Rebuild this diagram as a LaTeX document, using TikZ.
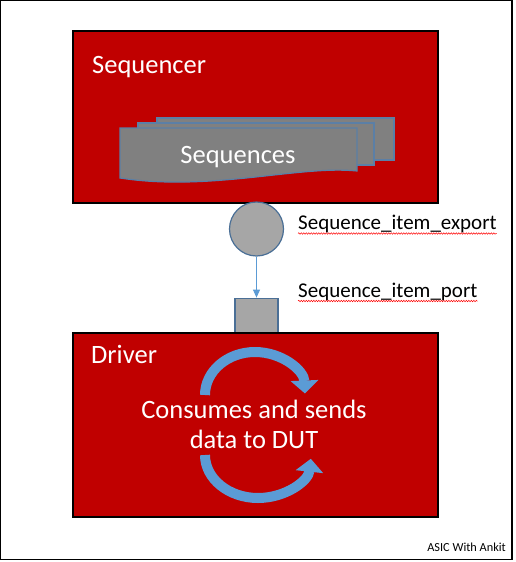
\documentclass[tikz,border=0pt]{standalone}
\usepackage{fontspec}
\setmainfont{Carlito}
\usetikzlibrary{arrows.meta,positioning,decorations.pathmorphing}
\definecolor{boxred}{HTML}{C00000}
\definecolor{docgray}{HTML}{808080}
\definecolor{docedge}{HTML}{5B7FA6}
\definecolor{portgray}{HTML}{A6A6A6}
\definecolor{portedge}{HTML}{4A6F96}
\definecolor{loopblue}{HTML}{5B9BD5}

\begin{document}
\begin{tikzpicture}[x=1pt,y=-1pt,
    block/.style={draw=black,line width=1.5pt,fill=boxred,anchor=north west,inner sep=0pt},
    title/.style={text=white,font=\fontsize{26.5}{30}\selectfont,anchor=base west,inner sep=0pt},
    sheet/.style={fill=docgray,draw=docedge,line width=1.2pt},
    tlmport/.style={fill=portgray,draw=portedge,line width=1.2pt,inner sep=0pt},
    portlabel/.style={font=\fontsize{21}{25}\selectfont,anchor=base west,inner sep=0pt},
    squiggle/.style={draw=red,line width=0.5pt,decorate,decoration={snake,amplitude=0.7pt,segment length=2.5pt}},
    link/.style={draw=loopblue,line width=0.8pt,-{Triangle[width=7pt,length=8pt]}},
    swirl/.style={draw=loopblue,line width=10pt,-{Triangle[width=27pt,length=13pt]}}]
  \useasboundingbox (0,0) rectangle (515,562);
  \draw[line width=1.2pt] (0.8,0.8) rectangle (512,559.5);

  % sequencer
  \node[block,minimum width=365pt,minimum height=172pt] (sequencer) at (72,30) {};
  \node[title] (seqname) at (92,73) {Sequencer};
  \draw[sheet] (157,118) rectangle (394,160);
  \draw[sheet] (138,123) rectangle (374,165);
  \draw[sheet] (120,128) -- (357,128) -- (357,171)
    .. controls (300,165) and (210,192) .. (120,178) -- cycle;
  \node[title,anchor=base] (seqtext) at (238,163) {Sequences};

  % export and port
  \node[tlmport,circle,minimum size=54pt] (export) at (256.5,229) {};
  \node[tlmport,minimum width=43pt,minimum height=35pt] (port) [below=41pt of export] {};
  \draw[link] (export) -- (port);
  \node[portlabel] (explabel) at (298,229.5) {Sequence\_item\_export};
  \node[portlabel] (portname) at (298,297) {Sequence\_item\_port};
  \draw[squiggle] ([yshift=-4pt]explabel.base west) -- ([yshift=-4pt]explabel.base east);
  \draw[squiggle] ([yshift=-4pt]portname.base west) -- ([yshift=-4pt]portname.base east);

  % driver
  \node[block,minimum width=365pt,minimum height=184pt] (driver) at (72,332) {};
  \node[title] (drvname) at (91,363) {Driver};
  \draw[swirl] (205,395) arc[start angle=180,end angle=358,x radius=50,y radius=43];
  \draw[swirl] (205,455) arc[start angle=180,end angle=5,x radius=53,y radius=43];
  \node[text=white,font=\fontsize{26.5}{30}\selectfont,align=center] (task) at (254,424.5)
    {Consumes and sends\\data to DUT};

  \node[font=\fontsize{12.3}{14}\selectfont,anchor=base east,inner sep=0pt] (credit) at (506,551) {ASIC With Ankit};
\end{tikzpicture}
\end{document}
